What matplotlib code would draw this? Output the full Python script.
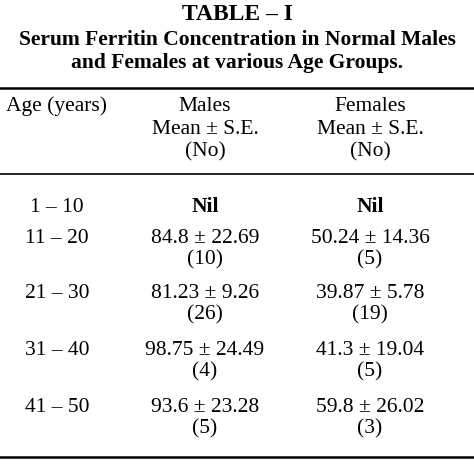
import matplotlib.pyplot as plt

age_groups = ['1 – 10', '11 – 20', '21 – 30', '31 – 40', '41 – 50']
males = ['Nil', '84.8 ± 22.69', '81.23 ± 9.26', '98.75 ± 24.49', '93.6 ± 23.28']
males_n = ['', '(10)', '(26)', '(4)', '(5)']
females = ['Nil', '50.24 ± 14.36', '39.87 ± 5.78', '41.3 ± 19.04', '59.8 ± 26.02']
females_n = ['', '(5)', '(19)', '(5)', '(3)']
row_y = [207, 238, 293, 350, 407]

plt.rcParams['font.family'] = ['Liberation Serif', 'DejaVu Serif']
fig = plt.figure(figsize=(4.74, 4.65), dpi=100)
ax = fig.add_axes([0, 0, 1, 1])
ax.set_xlim(0, 474)
ax.set_ylim(465, 0)
ax.axis('off')

fs = 15.5
ax.text(237, 14, 'TABLE – I', ha='center', va='center', fontsize=17, fontweight='bold')
ax.text(237, 40, 'Serum Ferritin Concentration in Normal Males', ha='center', va='center', fontsize=15.5, fontweight='bold')
ax.text(237, 63, 'and Females at various Age Groups.', ha='center', va='center', fontsize=15.5, fontweight='bold')

ax.plot([0, 474], [88, 88], color='black', lw=1.8)
ax.plot([0, 474], [174, 174], color='black', lw=1.2)
ax.plot([0, 474], [457, 457], color='black', lw=1.8)

cx = [57, 205, 370]
ax.text(cx[0], 106, 'Age (years)', ha='center', va='center', fontsize=fs)
ax.text(cx[1], 106, 'Males', ha='center', va='center', fontsize=fs)
ax.text(cx[1], 129, 'Mean ± S.E.', ha='center', va='center', fontsize=fs)
ax.text(cx[1], 152, '(No)', ha='center', va='center', fontsize=fs)
ax.text(cx[2], 106, 'Females', ha='center', va='center', fontsize=fs)
ax.text(cx[2], 129, 'Mean ± S.E.', ha='center', va='center', fontsize=fs)
ax.text(cx[2], 152, '(No)', ha='center', va='center', fontsize=fs)

for i, y in enumerate(row_y):
    w = 'bold' if males[i] == 'Nil' else 'normal'
    ax.text(cx[0], y, age_groups[i], ha='center', va='center', fontsize=fs)
    ax.text(cx[1], y, males[i], ha='center', va='center', fontsize=fs, fontweight=w)
    ax.text(cx[2], y, females[i], ha='center', va='center', fontsize=fs, fontweight=w)
    ax.text(cx[1], y + 22, males_n[i], ha='center', va='center', fontsize=fs)
    ax.text(cx[2], y + 22, females_n[i], ha='center', va='center', fontsize=fs)

fig.savefig('out.png', dpi=100)
